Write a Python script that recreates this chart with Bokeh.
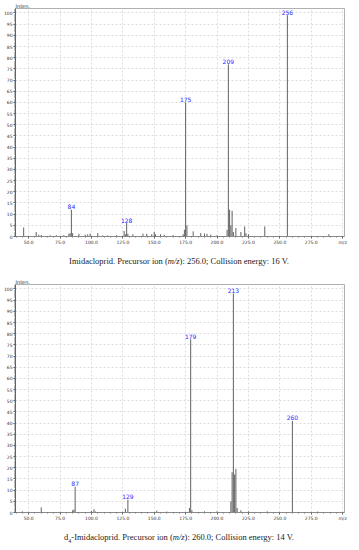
from bokeh.plotting import figure
from bokeh.models import Range1d, FixedTicker, Div, ColumnDataSource
from bokeh.layouts import column
from bokeh.embed import file_html
from bokeh.resources import INLINE
from bokeh.core.properties import value

# ---- data: chart 1 (Imidacloprid) ----
mz1 = [46, 56, 58, 60, 67, 72, 78, 82, 83, 84, 85, 90, 95, 97, 99, 105, 109, 113,
       120, 126, 127, 128, 129, 133, 141, 144, 148, 150, 151, 155, 158, 165, 173,
       174, 175, 176, 181, 187, 190, 192, 195, 200, 208, 209, 210, 211, 212, 213,
       215, 219, 222, 223, 225, 238, 256, 289]
int1 = [4.0, 2.0, 0.8, 0.7, 0.5, 0.6, 0.6, 1.2, 1.5, 12.0, 1.5, 1.2, 0.8, 1.0, 1.3,
        1.5, 0.5, 0.5, 0.6, 2.5, 1.0, 6.0, 1.2, 1.0, 1.3, 1.2, 1.0, 2.0, 1.0, 1.0,
        0.8, 0.6, 1.0, 3.0, 60.0, 5.0, 2.3, 1.5, 1.3, 1.2, 0.8, 0.5, 3.0, 77.0,
        12.0, 5.0, 11.5, 2.0, 3.8, 2.0, 4.5, 1.5, 1.0, 4.5, 99.0, 1.0]
lab_mz1 = [84, 128, 175, 209, 256]
lab_int1 = [12.0, 6.0, 60.0, 77.0, 99.0]
caption1 = "Imidacloprid. Precursor ion (<i>m/z</i>): 256.0; Collision energy: 16 V."

# ---- data: chart 2 (d4-Imidacloprid) ----
mz2 = [45, 60, 85, 86, 87, 100, 102, 103, 127, 129, 152, 160, 178, 179, 180, 190,
       200, 211, 212, 213, 214, 215, 216, 219, 225, 240, 260, 280]
int2 = [0.5, 2.3, 1.0, 1.3, 11.5, 0.7, 1.5, 0.5, 1.7, 5.7, 0.8, 0.4, 2.0, 77.5,
        1.0, 0.5, 0.5, 5.0, 18.0, 98.0, 17.0, 19.5, 2.0, 1.0, 0.5, 0.5, 41.0, 0.4]
lab_mz2 = [87, 129, 179, 213, 260]
lab_int2 = [11.5, 5.7, 77.5, 98.0, 41.0]
caption2 = "d<sub style=\"font-size:6px;line-height:0\">4</sub>-Imidacloprid. Precursor ion (<i>m/z</i>): 260.0; Collision energy: 14 V."

x_ticks = [50, 75, 100, 125, 150, 175, 200, 225, 250, 275, 300]
x_tick_labels = {50: "50.0", 75: "75.0", 100: "100.0", 125: "125.0", 150: "150.0",
                 175: "175.0", 200: "200.0", 225: "225.0", 250: "250.0",
                 275: "275.0", 300: "m/z"}
y_ticks = list(range(0, 101, 5))


def make_chart(mz, inten, lmz, lint):
    p = figure(width=348, height=247, output_backend="svg", toolbar_location=None,
               x_range=Range1d(39.5, 301.5), y_range=Range1d(0, 102),
               min_border_left=10, min_border_right=4, min_border_top=2,
               min_border_bottom=2, title="Inten.")
    p.title.text_font_size = "5px"
    p.title.text_font = "DejaVu Sans"
    p.title.text_font_style = "normal"
    p.title.offset = 0
    p.title.standoff = 0
    p.title.text_color = "#333333"
    p.outline_line_color = "#b0b0b0"
    p.background_fill_color = "white"

    p.xaxis.ticker = FixedTicker(ticks=x_ticks,
                                 minor_ticks=list(range(40, 302, 5)))
    p.xaxis.major_label_overrides = x_tick_labels
    p.yaxis.ticker = FixedTicker(ticks=y_ticks, minor_ticks=[v / 2 for v in range(0, 204)])
    for ax in (p.xaxis, p.yaxis):
        ax.major_label_text_font_size = "4.5px"
        ax.major_label_text_font = "DejaVu Sans"
        ax.major_label_text_color = "#333333"
        ax.axis_line_color = "#555555"
        ax.major_tick_line_color = "#555555"
        ax.minor_tick_line_color = "#777777"
        ax.major_tick_in = 0
        ax.major_tick_out = 2
        ax.minor_tick_in = 0
        ax.minor_tick_out = 1
        ax.major_label_standoff = 1
    p.xaxis.axis_line_color = "#888888"

    p.xgrid.ticker = FixedTicker(ticks=x_ticks)
    p.ygrid.ticker = FixedTicker(ticks=y_ticks)
    for g in (p.xgrid, p.ygrid):
        g.grid_line_color = "#cfcfcf"
        g.grid_line_dash = "2 2"
        g.grid_line_width = 0.7

    src = ColumnDataSource(dict(x=mz, y=inten, y0=[0] * len(mz)))
    p.segment(x0="x", y0="y0", x1="x", y1="y", source=src,
              line_color="#3a3a3a", line_width=0.8)
    lsrc = ColumnDataSource(dict(x=lmz, y=lint, t=[str(v) for v in lmz]))
    p.text(x="x", y="y", text="t", source=lsrc, text_align="center",
           text_baseline="bottom", text_font_size="6px", y_offset=-0.5,
           text_color="#2a2aff", text_font=value("DejaVu Sans"))
    return p


def caption(html):
    return Div(text=('<div style="width:348px;text-align:center;'
                     'font-family:\'Liberation Serif\',serif;font-size:8.5px;'
                     'color:#222;line-height:10px;padding-top:4px;">' + html + '</div>'),
               width=348, height=19)


p1 = make_chart(mz1, int1, lab_mz1, lab_int1)
p2 = make_chart(mz2, int2, lab_mz2, lab_int2)
layout = column(p1, caption(caption1), p2, caption(caption2), spacing=0)

open("out.html", "w").write(file_html(layout, INLINE))
